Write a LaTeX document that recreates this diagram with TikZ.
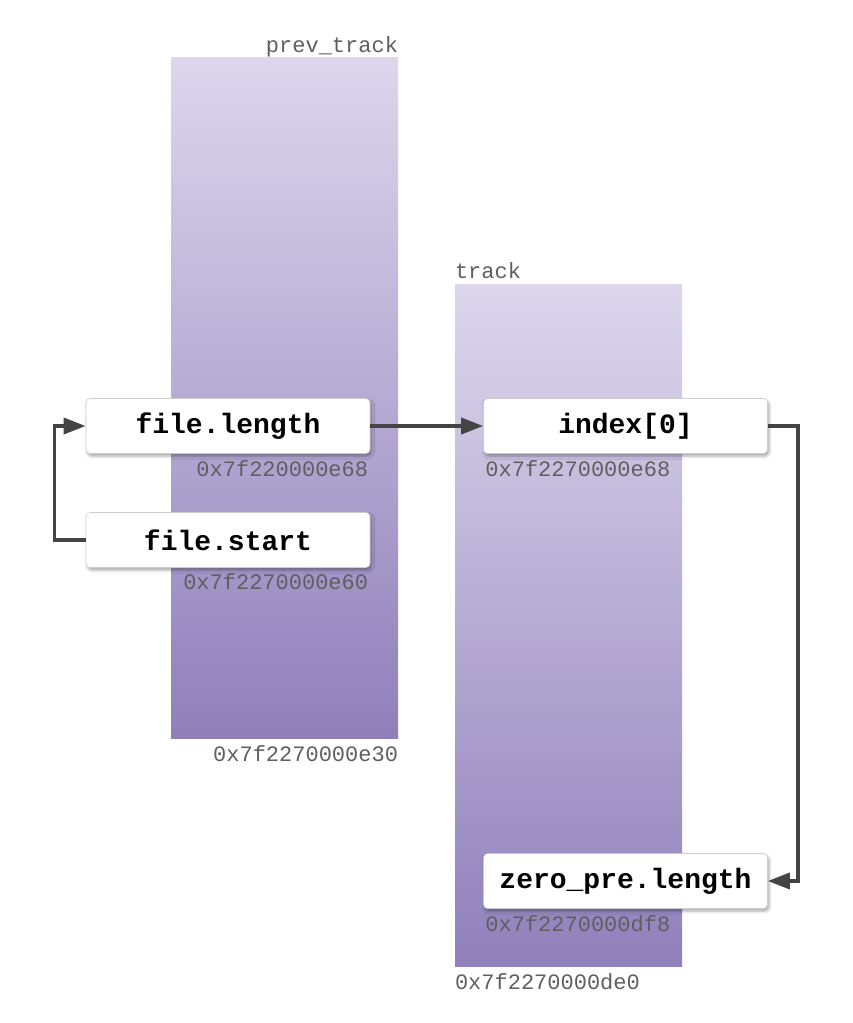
\documentclass[tikz,border=0pt]{standalone}
\usepackage{fontspec}
\setmonofont{Liberation Mono}
\usepackage{tikz}
\usetikzlibrary{calc}
\usetikzlibrary{arrows.meta}
\usetikzlibrary{shadows.blur}

\definecolor{stacktop}{RGB}{221,214,236}
\definecolor{stackbot}{RGB}{143,128,187}
\definecolor{wire}{RGB}{68,68,68}
\definecolor{addrgray}{RGB}{95,95,95}

\tikzset{
  block/.style={inner sep=0pt, minimum width=227pt, top color=stacktop, bottom color=stackbot},
  field/.style={draw=black!20, line width=0.6pt, fill=white, rounded corners=4pt,
    minimum width=284pt, minimum height=55pt, inner sep=0pt,
    font=\ttfamily\bfseries\fontsize{28}{32}\selectfont,
    blur shadow={shadow xshift=1.5pt, shadow yshift=-2.5pt, shadow blur radius=3pt, shadow opacity=35}},
  addr/.style={inner sep=0pt, text=addrgray, font=\ttfamily\fontsize{22}{26}\selectfont},
  link/.style={draw=wire, line width=3.5pt, -{Triangle[length=22pt,width=16pt]}}
}

\begin{document}
\begin{tikzpicture}[x=1pt,y=-1pt]
    \useasboundingbox (0,0) rectangle (853,1023);
    % stack frames
    \node[block, minimum height=681pt] (prev) at (284.5,397.5) {};
    \node[block, minimum height=682pt] (trk) at (568.5,625) {};
    \node[addr, anchor=base east] (prevname) at ([yshift=4pt]prev.north east) {prev\_track};
    \node[addr, anchor=base west] (trkname) at ([yshift=5pt]trk.north west) {track};
    \node[addr, anchor=base east] (prevend) at ([yshift=-23pt]prev.south east) {0x7f2270000e30};
    \node[addr, anchor=base west] (trkend) at ([yshift=-23pt]trk.south west) {0x7f2270000de0};
    % fields
    \node[field] (flen) at (228,426) {file.length};
    \node[field] (fstart) at (228,540) {file.start};
    \node[field] (idx) at (625.5,426) {index[0]};
    \node[field] (zpre) at (625.5,881) {zero\_pre.length};
    \node[addr, anchor=base east] (flenaddr) at ([xshift=-2pt,yshift=-23pt]flen.south east) {0x7f220000e68};
    \node[addr, anchor=base east] (fstartaddr) at ([xshift=-2pt,yshift=-22pt]fstart.south east) {0x7f2270000e60};
    \node[addr, anchor=base west] (idxaddr) at ([xshift=2pt,yshift=-23pt]idx.south west) {0x7f2270000e68};
    \node[addr, anchor=base west] (zpreaddr) at ([xshift=2pt,yshift=-23pt]zpre.south west) {0x7f2270000df8};
    % pointers
    \draw[link] (fstart.west) -- ++(-31,0) |- (flen.west);
    \draw[link] (flen.east) -- (idx.west);
    \draw[link] (idx.east) -- ++(30,0) |- (zpre.east);
\end{tikzpicture}
\end{document}
